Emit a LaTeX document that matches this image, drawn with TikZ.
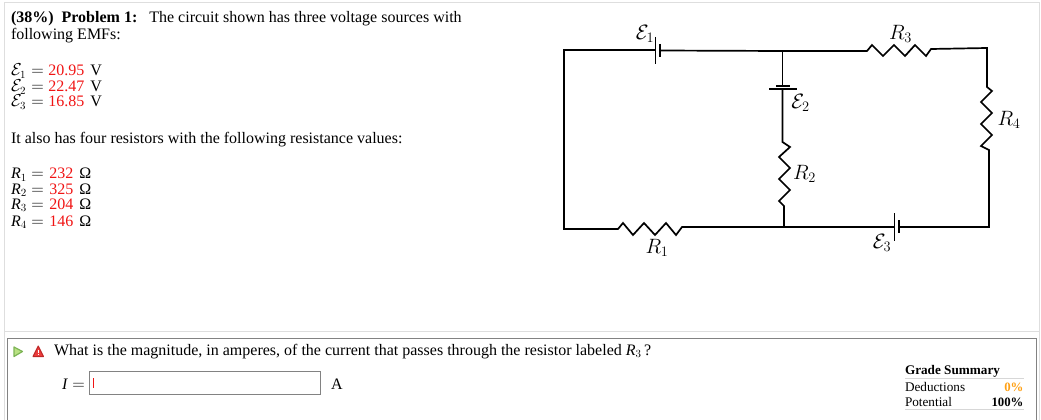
\documentclass[tikz,border=0pt]{standalone}
\usepackage{fontspec}
\setmainfont{Liberation Serif}
\definecolor{valred}{RGB}{240,20,20}
\definecolor{frameg}{RGB}{222,222,222}
\definecolor{boxg}{RGB}{130,130,130}
\definecolor{ruleg}{RGB}{215,215,215}
\definecolor{gradeor}{RGB}{255,160,20}
\definecolor{playfill}{RGB}{185,225,130}
\definecolor{playline}{RGB}{125,180,85}
\definecolor{warnfill}{RGB}{235,60,60}
\definecolor{warnline}{RGB}{190,40,40}
\newcommand{\valr}[1]{\textcolor{valred}{#1}}
\newcommand{\calE}[1]{\makebox[20.5pt][l]{$\mathcal{E}_{#1}$}}
\newcommand{\itR}[1]{\makebox[20.5pt][l]{\textit{R}$_{#1}$}}
\begin{document}
\begin{tikzpicture}[x=1pt,y=-1pt,
  txt/.style={anchor=base west,inner sep=0pt,outer sep=0pt,font=\fontsize{16}{16}\selectfont},
  small/.style={anchor=base west,inner sep=0pt,outer sep=0pt,font=\fontsize{13.2}{14}\selectfont},
  smallb/.style={anchor=base east,inner sep=0pt,outer sep=0pt,font=\fontsize{12.8}{14}\selectfont\bfseries},
  clabel/.style={inner sep=0pt,font=\fontsize{19.5}{20}\selectfont},
  wire/.style={line width=1.7pt,black,line join=miter},
  plate/.style={line width=1.7pt,black}]
\useasboundingbox (0,0) rectangle (1041,420);
% frames
\draw[frameg,line width=1pt] (4.5,420) -- (4.5,2.5) -- (1039,2.5) -- (1039,420);
\draw[frameg,line width=1pt] (4.5,331) -- (1039,331);
\draw[boxg,line width=1pt] (7.5,420) -- (7.5,338.5) -- (1036.5,338.5) -- (1036.5,420);
% problem text
\node[txt] (t1) at (11,23) {\textbf{(38\%)\ \ Problem 1:}\ \ \ The circuit shown has three voltage sources with};
\node[txt] (t2) at (11,40) {following EMFs:};
\node[txt] (e1) at (11,76) {\calE{1}$=$\hspace{4.5pt}\valr{20.95}\hspace{6pt}V};
\node[txt] (e2) at (11,91.5) {\calE{2}$=$\hspace{4.5pt}\valr{22.47}\hspace{6pt}V};
\node[txt] (e3) at (11,106.5) {\calE{3}$=$\hspace{4.5pt}\valr{16.85}\hspace{6pt}V};
\node[txt] (t3) at (11,143) {It also has four resistors with the following resistance values:};
\node[txt] (r1) at (11,178.5) {\itR{1}$=$\hspace{5.5pt}\valr{232}\hspace{6pt}Ω};
\node[txt] (r2) at (11,194) {\itR{2}$=$\hspace{5.5pt}\valr{325}\hspace{6pt}Ω};
\node[txt] (r3) at (11,209) {\itR{3}$=$\hspace{5.5pt}\valr{204}\hspace{6pt}Ω};
\node[txt] (r4) at (11,226) {\itR{4}$=$\hspace{5.5pt}\valr{146}\hspace{6pt}Ω};
% circuit coordinates
\coordinate (tl) at (564,50);
\coordinate (bl) at (564,229);
\coordinate (e1a) at (655.5,50);
\coordinate (e1b) at (660,50.5);
\coordinate (jt) at (782.5,51);
\coordinate (jb) at (784,227);
\coordinate (r3a) at (867,51);
\coordinate (r3b) at (931,49);
\coordinate (tr) at (987,48);
\coordinate (r4a) at (987,87);
\coordinate (r4b) at (989,150);
\coordinate (br) at (989,227);
\coordinate (e3a) at (899,227);
\coordinate (e3b) at (894.5,227);
\coordinate (r1a) at (618,229);
\coordinate (r1b) at (682,227);
\coordinate (e2a) at (782.5,86);
\coordinate (e2b) at (782.5,89);
\coordinate (r2a) at (782.5,142);
\coordinate (r2b) at (784,206);
% wires
\draw[wire] (e1a) -- (tl) -- (bl) -- (r1a)
  -- (623,223) -- (633,235) -- (644,223) -- (655,235) -- (666,223) -- (676,235) -- (r1b)
  -- (jb) -- (e3b);
\draw[wire] (e3a) -- (br) -- (r4b)
  -- (981,146) -- (992,135) -- (981,124) -- (992,113) -- (981,102) -- (992,91) -- (r4a)
  -- (tr) -- (r3b)
  -- (926,56) -- (915,45) -- (905,56) -- (894,45) -- (883,56) -- (872,45) -- (r3a)
  -- (jt) -- (e1b);
\draw[wire] (jt) -- (e2a);
\draw[wire] (e2b) -- (r2a)
  -- (790,147) -- (779,157) -- (790,168) -- (779,179) -- (790,190) -- (779,201) -- (r2b) -- (jb);
% plates
\draw[plate] (655.5,37) -- (655.5,64);
\draw[plate] (660,44) -- (660,57);
\draw[plate] (894.5,213) -- (894.5,241);
\draw[plate] (899,220) -- (899,233);
\draw[plate] (776,86) -- (790,86);
\draw[plate] (769,89) -- (797,89);
% circuit labels
\node[clabel] (le1) at (645,34) {$\mathcal{E}_1$};
\node[clabel] (le2) at (800.5,102.5) {$\mathcal{E}_2$};
\node[clabel] (le3) at (882,243) {$\mathcal{E}_3$};
\node[clabel] (lr1) at (657,248) {$R_1$};
\node[clabel] (lr2) at (804.5,174) {$R_2$};
\node[clabel] (lr3) at (900.5,34) {$R_3$};
\node[clabel] (lr4) at (1009,119.5) {$R_4$};
% question
\draw[playline,fill=playfill,line width=1.2pt,line join=round] (14,347) -- (22.5,351.5) -- (14,356.5) -- cycle;
\draw[warnline,fill=warnfill,line width=1pt,line join=round] (38.3,346) -- (43.5,356.5) -- (33,356.5) -- cycle;
\fill[white] (37.7,349.5) rectangle (38.9,353.3);
\fill[white] (37.7,354.2) rectangle (38.9,355.4);
\node[txt] (q) at (54,355) {What is the magnitude, in amperes, of the current that passes through the resistor labeled \textit{R}$_3$\,?};
\node[txt] (i) at (62,389) {\textit{I}\hspace{4.5pt}$=$};
\node[draw=boxg,line width=1pt,minimum width=231pt,minimum height=23pt,inner sep=0pt,outer sep=0pt,anchor=north west] (inp) at (89.5,371.5) {};
\draw[valred,line width=1pt] (93.5,378) -- (93.5,388);
\node[txt] (a) at (331,389) {A};
% grade
\node[small,font=\fontsize{13.2}{14}\selectfont\bfseries] (gs) at (905,374.5) {Grade Summary};
\draw[ruleg,line width=0.8pt] (905,378.5) -- (1024,378.5);
\node[small] (gd) at (905,391) {Deductions};
\node[smallb,text=gradeor] (gz) at (1023.5,391) {0\%};
\node[small] (gp) at (905,406) {Potential};
\node[smallb] (gc) at (1023.5,406) {100\%};
\draw[ruleg,line width=0.8pt] (905,409.5) -- (1024,409.5);
\end{tikzpicture}
\end{document}
